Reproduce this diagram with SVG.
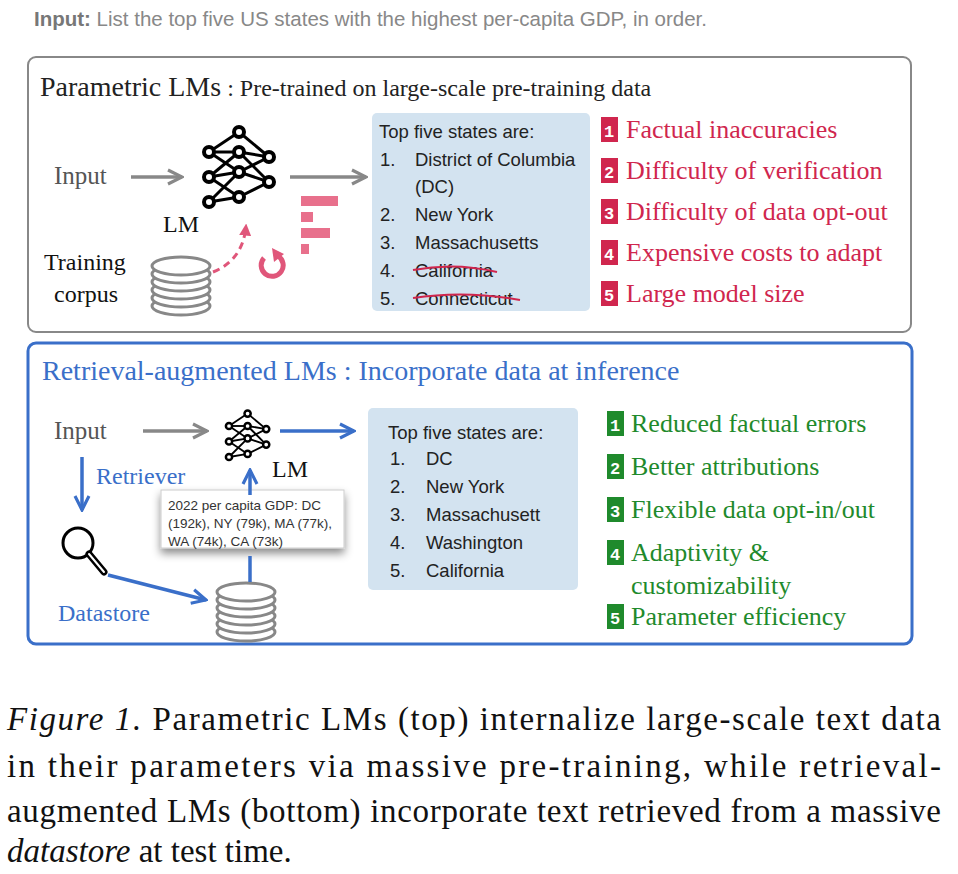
<svg xmlns="http://www.w3.org/2000/svg" width="958" height="874" viewBox="0 0 958 874">
<defs>
<style>
.sans{font-family:"Liberation Sans",Arial,sans-serif}
.serif{font-family:"Liberation Serif","Times New Roman",serif}
.lbl{font-family:"Liberation Serif",serif;font-size:25px;fill:#555}
.li{font-family:"Liberation Sans",sans-serif;font-size:18.5px;fill:#222}
.red{font-family:"Liberation Serif",serif;font-size:26px;fill:#d0264e}
.grn{font-family:"Liberation Serif",serif;font-size:26px;fill:#1f8a2c}
.bnum{font-family:"Liberation Mono",monospace;font-size:17px;font-weight:bold;fill:#fff}
</style>
<marker id="ag" viewBox="0 0 10 10" refX="9" refY="5" markerWidth="5" markerHeight="5" orient="auto"><path d="M1,1 L9,5 L1,9" fill="none" stroke="#888" stroke-width="1.8"/></marker>
<marker id="ab" viewBox="0 0 10 10" refX="9" refY="5" markerWidth="5" markerHeight="5" orient="auto"><path d="M1,1 L9,5 L1,9" fill="none" stroke="#3a6fc9" stroke-width="1.8"/></marker>
<marker id="ar" viewBox="0 0 10 10" refX="8" refY="5" markerWidth="4" markerHeight="4" orient="auto"><path d="M0,0 L10,5 L0,10 z" fill="#e0567a"/></marker>
<filter id="sh" x="-10%" y="-10%" width="130%" height="150%"><feDropShadow dx="0" dy="5" stdDeviation="4" flood-opacity="0.45"/></filter>
<g id="db" fill="#fff" stroke="#888" stroke-width="3">
<ellipse cx="0" cy="40" rx="29" ry="9"/><ellipse cx="0" cy="32" rx="29" ry="9"/><ellipse cx="0" cy="24" rx="29" ry="9"/><ellipse cx="0" cy="16" rx="29" ry="9"/><ellipse cx="0" cy="8" rx="29" ry="9"/><ellipse cx="0" cy="0" rx="29" ry="9"/>
</g>
<g id="nnet">
<g stroke="#000" stroke-width="3">
<line x1="0" y1="0" x2="30" y2="-20"/><line x1="0" y1="0" x2="30" y2="0"/><line x1="0" y1="0" x2="30" y2="20"/>
<line x1="0" y1="25" x2="30" y2="0"/><line x1="0" y1="25" x2="30" y2="20"/><line x1="0" y1="25" x2="30" y2="45"/>
<line x1="0" y1="50" x2="30" y2="20"/><line x1="0" y1="50" x2="30" y2="45"/>
<line x1="30" y1="-20" x2="60" y2="5"/><line x1="30" y1="0" x2="60" y2="5"/><line x1="30" y1="0" x2="60" y2="30"/><line x1="30" y1="20" x2="60" y2="5"/><line x1="30" y1="20" x2="60" y2="30"/><line x1="30" y1="45" x2="60" y2="30"/>
</g>
<g fill="#fff" stroke="#000" stroke-width="4">
<circle cx="0" cy="0" r="5"/><circle cx="0" cy="25" r="5"/><circle cx="0" cy="50" r="5"/>
<circle cx="30" cy="-20" r="5"/><circle cx="30" cy="0" r="5"/><circle cx="30" cy="20" r="5"/><circle cx="30" cy="45" r="5"/>
<circle cx="60" cy="5" r="5"/><circle cx="60" cy="30" r="5"/>
</g>
</g>
</defs>
<rect width="958" height="874" fill="#fff"/>

<text x="34" y="26" class="sans" font-size="20.5" fill="#888"><tspan font-weight="bold" fill="#777">Input:</tspan>  List the top five US states with the highest per-capita GDP, in order.</text>

<g id="top-panel">
<rect x="28" y="57" width="883" height="275" rx="8" fill="none" stroke="#888" stroke-width="2"/>
<text x="40" y="96" class="serif" fill="#222"><tspan font-size="28">Parametric LMs</tspan><tspan font-size="24"> : Pre-trained  on large-scale pre-training data</tspan></text>
</g>
<g id="p-input"><text x="54" y="184" class="lbl">Input</text></g>
<g id="p-lm"><use href="#nnet" x="209" y="152"/><text x="163" y="232" class="serif" font-size="24" fill="#111">LM</text></g>
<g id="p-corpus"><text x="44" y="270" class="serif" font-size="24" fill="#111">Training</text><text x="54" y="302" class="serif" font-size="24" fill="#111">corpus</text>
<use href="#db" x="181" y="266"/></g>
<g id="p-update">
<path d="M264,258 A11,11 0 1 0 278,256" fill="none" stroke="#e0567a" stroke-width="5"/>
<path d="M272,248 L284,254 L274,262 z" fill="#e0567a"/>
<g fill="#e8708c"><rect x="301" y="196" width="37" height="10"/><rect x="301" y="212" width="12" height="10"/><rect x="301" y="228" width="29" height="10"/><rect x="301" y="244" width="8" height="10"/></g>
</g>
<g id="p-output">
<rect x="372" y="113" width="218" height="198" rx="5" fill="#d3e3f0"/>
<text x="379" y="138" class="li" font-size="17.5">Top five states are:</text>
<g class="li"><text x="380" y="166">1.</text><text x="415" y="166">District of Columbia</text><text x="415" y="193">(DC)</text>
<text x="380" y="221">2.</text><text x="415" y="221">New York</text>
<text x="380" y="249">3.</text><text x="415" y="249">Massachusetts</text>
<text x="380" y="277">4.</text><text x="415" y="277">California</text>
<text x="380" y="305">5.</text><text x="415" y="305">Connecticut</text></g>
<path d="M413,270 Q455,262 497,272" fill="none" stroke="#d0264e" stroke-width="2"/>
<path d="M413,298 Q465,290 520,300" fill="none" stroke="#d0264e" stroke-width="2"/>
</g>
<g id="p-issues">
<g fill="#d0264e"><rect x="601" y="117" width="17" height="25"/><rect x="601" y="158" width="17" height="25"/><rect x="601" y="199" width="17" height="25"/><rect x="601" y="240" width="17" height="25"/><rect x="601" y="281" width="17" height="25"/></g>
<g class="bnum"><text x="604" y="137">1</text><text x="604" y="178">2</text><text x="604" y="219">3</text><text x="604" y="260">4</text><text x="604" y="301">5</text></g>
<text x="626" y="138" class="red">Factual inaccuracies</text>
<text x="626" y="179" class="red">Difficulty of verification</text>
<text x="626" y="220" class="red">Difficulty of data opt-out</text>
<text x="626" y="261" class="red">Expensive costs to adapt</text>
<text x="626" y="302" class="red">Large model size</text>
</g>

<g id="bottom-panel">
<rect x="28" y="343" width="884" height="301" rx="8" fill="none" stroke="#3a6fc9" stroke-width="3"/>
<text x="42" y="380" class="serif" fill="#3a6fc9" font-size="28">Retrieval-augmented LMs : Incorporate data at inference</text>
</g>
<g id="r-input"><text x="54" y="439" class="lbl">Input</text></g>
<g id="r-lm"><g transform="translate(229,426) scale(0.62)"><use href="#nnet" x="0" y="0"/></g>
<text x="272" y="477" class="serif" font-size="24" fill="#111">LM</text></g>
<g id="r-retriever"><text x="96" y="484" class="serif" font-size="24" fill="#3a6fc9">Retriever</text>
<circle cx="78" cy="543" r="15" fill="none" stroke="#000" stroke-width="3"/><line x1="89" y1="554" x2="104" y2="572" stroke="#000" stroke-width="7" stroke-linecap="round"/><line x1="89" y1="554" x2="104" y2="572" stroke="#fff" stroke-width="2" stroke-linecap="round"/></g>
<g id="r-datastore"><text x="58" y="621" class="serif" font-size="24" fill="#3a6fc9">Datastore</text>
<use href="#db" x="246" y="592"/></g>
<g id="r-doc">
<rect x="161" y="490" width="183" height="58" fill="#fff" stroke="#ccc" filter="url(#sh)"/>
<g class="sans" font-size="13.5" fill="#333"><text x="168" y="510">2022 per capita GDP: DC</text><text x="168" y="528">(192k), NY (79k), MA (77k),</text><text x="168" y="546">WA (74k), CA (73k)</text></g>
</g>
<g id="r-output">
<rect x="368" y="408" width="210" height="182" rx="5" fill="#d3e3f0"/>
<text x="388" y="439" class="li" font-size="17.5">Top five states are:</text>
<g class="li"><text x="390" y="465">1.</text><text x="426" y="465">DC</text>
<text x="390" y="493">2.</text><text x="426" y="493">New York</text>
<text x="390" y="521">3.</text><text x="426" y="521">Massachusett</text>
<text x="390" y="549">4.</text><text x="426" y="549">Washington</text>
<text x="390" y="577">5.</text><text x="426" y="577">California</text></g>
</g>
<g id="r-benefits">
<g fill="#1f8a2c"><rect x="607" y="411" width="17" height="25"/><rect x="607" y="454" width="17" height="25"/><rect x="607" y="497" width="17" height="25"/><rect x="607" y="540" width="17" height="25"/><rect x="607" y="604" width="17" height="25"/></g>
<g class="bnum"><text x="610" y="431">1</text><text x="610" y="474">2</text><text x="610" y="517">3</text><text x="610" y="560">4</text><text x="610" y="624">5</text></g>
<text x="631" y="432" class="grn">Reduced factual errors</text>
<text x="631" y="475" class="grn">Better attributions</text>
<text x="631" y="518" class="grn">Flexible data opt-in/out</text>
<text x="631" y="561" class="grn">Adaptivity &amp;</text>
<text x="631" y="594" class="grn">customizability</text>
<text x="631" y="625" class="grn">Parameter efficiency</text>
</g>

<g id="connectors" fill="none" stroke-width="3.5">
<line x1="131" y1="177" x2="182" y2="177" stroke="#888" marker-end="url(#ag)"/>
<line x1="290" y1="177" x2="366" y2="177" stroke="#888" marker-end="url(#ag)"/>
<path d="M213,272 Q243,260 246,226" stroke="#e0567a" stroke-width="3" stroke-dasharray="7,5" marker-end="url(#ar)"/>
<line x1="143" y1="431" x2="207" y2="431" stroke="#888" marker-end="url(#ag)"/>
<line x1="280" y1="431" x2="354" y2="431" stroke="#3a6fc9" marker-end="url(#ab)"/>
<line x1="82" y1="457" x2="82" y2="510" stroke="#3a6fc9" marker-end="url(#ab)"/>
<line x1="108" y1="575" x2="206" y2="600" stroke="#3a6fc9" marker-end="url(#ab)"/>
<line x1="250" y1="495" x2="250" y2="470" stroke="#3a6fc9" marker-end="url(#ab)"/>
<line x1="250" y1="582" x2="250" y2="556" stroke="#3a6fc9"/>
</g>

<g id="caption" class="serif" font-size="33" fill="#111">
<text x="7" y="730" textLength="934" lengthAdjust="spacing"><tspan font-style="italic">Figure 1.</tspan>  Parametric LMs (top) internalize large-scale text data</text>
<text x="7" y="777" textLength="934" lengthAdjust="spacing">in their parameters via massive pre-training, while retrieval-</text>
<text x="7" y="822" textLength="934" lengthAdjust="spacing">augmented LMs (bottom) incorporate text retrieved from a massive</text>
<text x="7" y="862"><tspan font-style="italic">datastore</tspan> at test time.</text>
</g>
</svg>
